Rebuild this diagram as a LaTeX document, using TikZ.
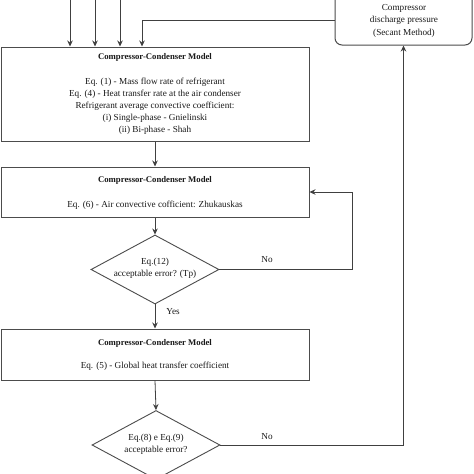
\documentclass[tikz,border=0pt]{standalone}
\usepackage{fontspec}
\setmainfont{Liberation Serif}
\usetikzlibrary{shapes.geometric,arrows.meta}
\begin{document}
\begin{tikzpicture}[x=1pt,y=1pt,
  line/.style={draw=black!75, line width=0.8pt},
  arr/.style={line, -{Stealth[length=6pt,width=5.5pt]}},
  blk/.style={draw=black!70, line width=1pt, minimum width=308pt, inner sep=0pt},
  dia/.style={diamond, draw=black!70, line width=0.9pt, minimum width=128pt, minimum height=69pt, inner sep=0pt},
  txt/.style={font=\fontsize{9.2}{12}\selectfont, align=center, inner sep=0pt, text=black!90},
  ttl/.style={font=\fontsize{8.7}{10}\selectfont\bfseries, inner sep=0pt, text=black!90}]
\useasboundingbox (0,0) rectangle (474,-474);
\fill[white] (0,0) rectangle (474,-474);
\clip (0,0) rectangle (474,-474);

% nodes
\node[draw=black!70, line width=1pt, rounded corners=7pt, minimum width=137pt, minimum height=80pt, inner sep=0pt] (rbox) at (403.5,-5) {};
\node[txt, align=center] (rtxt) at (404,-20.5) {Compressor\\discharge pressure\\[1pt](Secant Method)};

\node[blk, minimum height=94pt] (box1) at (155,-94) {};
\node[ttl] (t1) at (155,-57) {Compressor-Condenser Model};
\node[txt] (b1) at (155,-106.5) {Eq. (1) - Mass flow rate of refrigerant\\Eq. (4) - Heat transfer rate at the air condenser\\Refrigerant average convective coefficient:\\(i) Single-phase - Gnielinski\\(ii) Bi-phase - Shah};

\node[blk, minimum height=50pt] (box2) at (155,-192) {};
\node[ttl] (t2) at (155,-180) {Compressor-Condenser Model};
\node[txt] (b2) at (155,-205.5) {Eq. (6) - Air convective cofficient: Zhukauskas};

\node[dia] (d1) at (155,-269.5) {};
\node[txt] (dt1) at (155,-268) {Eq.(12)\\acceptable error? (Tp)};

\node[blk, minimum height=51pt] (box3) at (155,-354.5) {};
\node[ttl] (t3) at (155,-343) {Compressor-Condenser Model};
\node[txt] (b3) at (155,-366.5) {Eq. (5) - Global heat transfer coefficient};

\node[dia] (d2) at (156,-445) {};
\node[txt] (dt2) at (156,-444) {Eq.(8) e Eq.(9)\\acceptable error?};

\node[txt] (no1) at (267,-260) {No};
\node[txt] (yes) at (173,-312) {Yes};
\node[txt] (no2) at (267,-437) {No};

% coordinates
\coordinate (in1) at (70,0);
\coordinate (in2) at (95,0);
\coordinate (in3) at (120,0);
\coordinate (fb) at (142,-20);
\coordinate (c1) at (352,-192);

% connectors
\draw[arr] (in1) -- (in1 |- box1.north);
\draw[arr] (in2) -- (in2 |- box1.north);
\draw[arr] (in3) -- (in3 |- box1.north);
\draw[arr] (rbox.west |- fb) -- (fb) -- (fb |- box1.north);
\draw[arr] (box1.south) -- (box2.north);
\draw[arr] (box2.south) -- (d1.north);
\draw[arr] (d1.east) -| (c1) -- (c1 -| box2.east);
\draw[arr] (d1.south) -- (box3.north);
\draw[arr] (box3.south) -- (d2.north);
\draw[arr] (d2.east) -| (rbox.south);
\end{tikzpicture}
\end{document}
